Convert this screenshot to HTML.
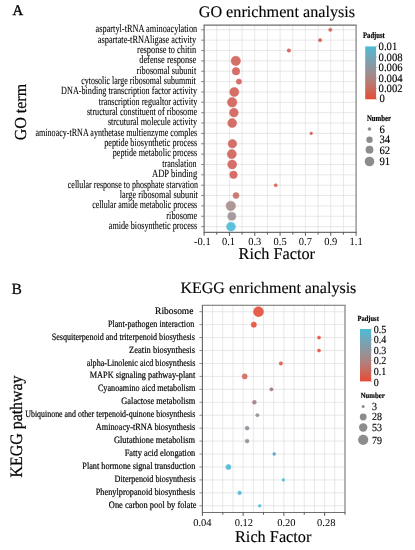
<!DOCTYPE html>
<html><head><meta charset="utf-8"><title>Enrichment analysis</title>
<style>html,body{margin:0;padding:0;background:#fff}body{width:415px;height:550px;overflow:hidden}svg{display:block}text{font-family:"Liberation Serif","DejaVu Serif",serif;fill:#000}</style></head><body>
<svg width="415" height="550" viewBox="0 0 415 550" text-rendering="geometricPrecision">
<defs><filter id="soft" x="0" y="0" width="415" height="550" filterUnits="userSpaceOnUse"><feGaussianBlur stdDeviation="0.35"/></filter><linearGradient id="g" x1="0" y1="1" x2="0" y2="0"><stop offset="0" stop-color="#e64b35"/><stop offset="0.2" stop-color="#c96a5e"/><stop offset="0.4" stop-color="#ab8482"/><stop offset="0.6" stop-color="#8d969e"/><stop offset="0.8" stop-color="#6fa8ba"/><stop offset="1" stop-color="#4dbbd5"/></linearGradient></defs>
<rect width="415" height="550" fill="#fff"/>
<g filter="url(#soft)">
<rect x="204.1" y="25.1" width="152.00" height="207.30" fill="#fff"/>
<line x1="216.77" y1="25.1" x2="216.77" y2="232.4" stroke="#dedede" stroke-width="0.7"/>
<line x1="229.43" y1="25.1" x2="229.43" y2="232.4" stroke="#dedede" stroke-width="0.7"/>
<line x1="242.10" y1="25.1" x2="242.10" y2="232.4" stroke="#dedede" stroke-width="0.7"/>
<line x1="254.77" y1="25.1" x2="254.77" y2="232.4" stroke="#dedede" stroke-width="0.7"/>
<line x1="267.43" y1="25.1" x2="267.43" y2="232.4" stroke="#dedede" stroke-width="0.7"/>
<line x1="280.10" y1="25.1" x2="280.10" y2="232.4" stroke="#dedede" stroke-width="0.7"/>
<line x1="292.77" y1="25.1" x2="292.77" y2="232.4" stroke="#dedede" stroke-width="0.7"/>
<line x1="305.43" y1="25.1" x2="305.43" y2="232.4" stroke="#dedede" stroke-width="0.7"/>
<line x1="318.10" y1="25.1" x2="318.10" y2="232.4" stroke="#dedede" stroke-width="0.7"/>
<line x1="330.77" y1="25.1" x2="330.77" y2="232.4" stroke="#dedede" stroke-width="0.7"/>
<line x1="343.43" y1="25.1" x2="343.43" y2="232.4" stroke="#dedede" stroke-width="0.7"/>
<line x1="204.1" y1="29.80" x2="356.1" y2="29.80" stroke="#dedede" stroke-width="0.7"/>
<line x1="204.1" y1="40.16" x2="356.1" y2="40.16" stroke="#dedede" stroke-width="0.7"/>
<line x1="204.1" y1="50.52" x2="356.1" y2="50.52" stroke="#dedede" stroke-width="0.7"/>
<line x1="204.1" y1="60.88" x2="356.1" y2="60.88" stroke="#dedede" stroke-width="0.7"/>
<line x1="204.1" y1="71.24" x2="356.1" y2="71.24" stroke="#dedede" stroke-width="0.7"/>
<line x1="204.1" y1="81.60" x2="356.1" y2="81.60" stroke="#dedede" stroke-width="0.7"/>
<line x1="204.1" y1="91.96" x2="356.1" y2="91.96" stroke="#dedede" stroke-width="0.7"/>
<line x1="204.1" y1="102.32" x2="356.1" y2="102.32" stroke="#dedede" stroke-width="0.7"/>
<line x1="204.1" y1="112.68" x2="356.1" y2="112.68" stroke="#dedede" stroke-width="0.7"/>
<line x1="204.1" y1="123.04" x2="356.1" y2="123.04" stroke="#dedede" stroke-width="0.7"/>
<line x1="204.1" y1="133.40" x2="356.1" y2="133.40" stroke="#dedede" stroke-width="0.7"/>
<line x1="204.1" y1="143.76" x2="356.1" y2="143.76" stroke="#dedede" stroke-width="0.7"/>
<line x1="204.1" y1="154.12" x2="356.1" y2="154.12" stroke="#dedede" stroke-width="0.7"/>
<line x1="204.1" y1="164.48" x2="356.1" y2="164.48" stroke="#dedede" stroke-width="0.7"/>
<line x1="204.1" y1="174.84" x2="356.1" y2="174.84" stroke="#dedede" stroke-width="0.7"/>
<line x1="204.1" y1="185.20" x2="356.1" y2="185.20" stroke="#dedede" stroke-width="0.7"/>
<line x1="204.1" y1="195.56" x2="356.1" y2="195.56" stroke="#dedede" stroke-width="0.7"/>
<line x1="204.1" y1="205.92" x2="356.1" y2="205.92" stroke="#dedede" stroke-width="0.7"/>
<line x1="204.1" y1="216.28" x2="356.1" y2="216.28" stroke="#dedede" stroke-width="0.7"/>
<line x1="204.1" y1="226.64" x2="356.1" y2="226.64" stroke="#dedede" stroke-width="0.7"/>
<circle cx="330.3" cy="29.80" r="1.65" fill="#d25e52" fill-opacity="0.92" stroke="#d25e52" stroke-width="0.5"/>
<circle cx="320.1" cy="40.16" r="1.65" fill="#d25e52" fill-opacity="0.92" stroke="#d25e52" stroke-width="0.5"/>
<circle cx="288.9" cy="50.52" r="1.75" fill="#d55f55" fill-opacity="0.92" stroke="#d55f55" stroke-width="0.5"/>
<circle cx="235.8" cy="60.88" r="4.65" fill="#d1635a" fill-opacity="0.92" stroke="#d1635a" stroke-width="0.5"/>
<circle cx="236.0" cy="71.24" r="3.75" fill="#d1635a" fill-opacity="0.92" stroke="#d1635a" stroke-width="0.5"/>
<circle cx="238.9" cy="81.60" r="2.65" fill="#d1635a" fill-opacity="0.92" stroke="#d1635a" stroke-width="0.5"/>
<circle cx="234.3" cy="91.96" r="4.55" fill="#d1635a" fill-opacity="0.92" stroke="#d1635a" stroke-width="0.5"/>
<circle cx="232.2" cy="102.32" r="4.75" fill="#d1635a" fill-opacity="0.92" stroke="#d1635a" stroke-width="0.5"/>
<circle cx="233.9" cy="112.68" r="4.35" fill="#d1635a" fill-opacity="0.92" stroke="#d1635a" stroke-width="0.5"/>
<circle cx="232.2" cy="123.04" r="4.45" fill="#d1635a" fill-opacity="0.92" stroke="#d1635a" stroke-width="0.5"/>
<circle cx="311.2" cy="133.40" r="1.35" fill="#d25e52" fill-opacity="0.92" stroke="#d25e52" stroke-width="0.5"/>
<circle cx="232.4" cy="143.76" r="4.25" fill="#d1635a" fill-opacity="0.92" stroke="#d1635a" stroke-width="0.5"/>
<circle cx="231.8" cy="154.12" r="4.55" fill="#d1635a" fill-opacity="0.92" stroke="#d1635a" stroke-width="0.5"/>
<circle cx="232.2" cy="164.48" r="4.45" fill="#d1635a" fill-opacity="0.92" stroke="#d1635a" stroke-width="0.5"/>
<circle cx="233.5" cy="174.84" r="3.75" fill="#d1635a" fill-opacity="0.92" stroke="#d1635a" stroke-width="0.5"/>
<circle cx="275.7" cy="185.20" r="1.55" fill="#d55f55" fill-opacity="0.92" stroke="#d55f55" stroke-width="0.5"/>
<circle cx="236.0" cy="195.56" r="3.05" fill="#c4726a" fill-opacity="0.92" stroke="#c4726a" stroke-width="0.5"/>
<circle cx="230.8" cy="205.92" r="4.75" fill="#a8908f" fill-opacity="0.92" stroke="#a8908f" stroke-width="0.5"/>
<circle cx="231.8" cy="216.28" r="4.05" fill="#a09497" fill-opacity="0.92" stroke="#a09497" stroke-width="0.5"/>
<circle cx="231.0" cy="226.64" r="4.45" fill="#4fbcd8" fill-opacity="0.92" stroke="#4fbcd8" stroke-width="0.5"/>
<path d="M204.1 232.95V25.1" fill="none" stroke="#626262" stroke-width="1.1"/>
<path d="M203.55 25.1H356.70" fill="none" stroke="#6c6c6c" stroke-width="1.1"/>
<path d="M356.1 25.1V233.00" fill="none" stroke="#8e8e8e" stroke-width="1.35"/>
<path d="M204.1 232.4H356.1" fill="none" stroke="#707070" stroke-width="1.2"/>
<line x1="201.10" y1="29.80" x2="204.1" y2="29.80" stroke="#666" stroke-width="0.75"/>
<text transform="translate(197.20,32.17) scale(0.7519,1)" font-size="11.04" text-anchor="end" stroke="#000" stroke-width="0.1">aspartyl-tRNA aminoacylation</text>
<line x1="201.10" y1="40.16" x2="204.1" y2="40.16" stroke="#666" stroke-width="0.75"/>
<text transform="translate(196.20,42.53) scale(0.7519,1)" font-size="11.04" text-anchor="end" stroke="#000" stroke-width="0.1">aspartate-tRNAligase activity</text>
<line x1="201.10" y1="50.52" x2="204.1" y2="50.52" stroke="#666" stroke-width="0.75"/>
<text transform="translate(196.20,52.89) scale(0.7594,1)" font-size="11.04" text-anchor="end" stroke="#000" stroke-width="0.1">response to chitin</text>
<line x1="201.10" y1="60.88" x2="204.1" y2="60.88" stroke="#666" stroke-width="0.75"/>
<text transform="translate(196.20,63.25) scale(0.7594,1)" font-size="11.04" text-anchor="end" stroke="#000" stroke-width="0.1">defense response</text>
<line x1="201.10" y1="71.24" x2="204.1" y2="71.24" stroke="#666" stroke-width="0.75"/>
<text transform="translate(196.20,73.61) scale(0.7519,1)" font-size="11.04" text-anchor="end" stroke="#000" stroke-width="0.1">ribosomal subunit</text>
<line x1="201.10" y1="81.60" x2="204.1" y2="81.60" stroke="#666" stroke-width="0.75"/>
<text transform="translate(195.80,83.97) scale(0.7248,1)" font-size="11.04" text-anchor="end" stroke="#000" stroke-width="0.1">cytosolic large ribosomal subummit</text>
<line x1="201.10" y1="91.96" x2="204.1" y2="91.96" stroke="#666" stroke-width="0.75"/>
<text transform="translate(197.20,94.33) scale(0.7391,1)" font-size="11.04" text-anchor="end" stroke="#000" stroke-width="0.1">DNA-binding transcription factor activity</text>
<line x1="201.10" y1="102.32" x2="204.1" y2="102.32" stroke="#666" stroke-width="0.75"/>
<text transform="translate(197.20,104.69) scale(0.7339,1)" font-size="11.04" text-anchor="end" stroke="#000" stroke-width="0.1">transcription regualtor activity</text>
<line x1="201.10" y1="112.68" x2="204.1" y2="112.68" stroke="#666" stroke-width="0.75"/>
<text transform="translate(197.20,115.05) scale(0.7421,1)" font-size="11.04" text-anchor="end" stroke="#000" stroke-width="0.1">structural constituent of ribosome</text>
<line x1="201.10" y1="123.04" x2="204.1" y2="123.04" stroke="#666" stroke-width="0.75"/>
<text transform="translate(197.20,125.41) scale(0.7398,1)" font-size="11.04" text-anchor="end" stroke="#000" stroke-width="0.1">strcutural molecule activity</text>
<line x1="201.10" y1="133.40" x2="204.1" y2="133.40" stroke="#666" stroke-width="0.75"/>
<text transform="translate(197.20,135.77) scale(0.73,1)" font-size="11.04" text-anchor="end" stroke="#000" stroke-width="0.1">aminoacy-tRNA aynthetase multienzyme comples</text>
<line x1="201.10" y1="143.76" x2="204.1" y2="143.76" stroke="#666" stroke-width="0.75"/>
<text transform="translate(197.20,146.13) scale(0.7444,1)" font-size="11.04" text-anchor="end" stroke="#000" stroke-width="0.1">peptide biosynthetic process</text>
<line x1="201.10" y1="154.12" x2="204.1" y2="154.12" stroke="#666" stroke-width="0.75"/>
<text transform="translate(197.20,156.49) scale(0.7368,1)" font-size="11.04" text-anchor="end" stroke="#000" stroke-width="0.1">peptide metabolic process</text>
<line x1="201.10" y1="164.48" x2="204.1" y2="164.48" stroke="#666" stroke-width="0.75"/>
<text transform="translate(196.50,166.85) scale(0.7346,1)" font-size="11.04" text-anchor="end" stroke="#000" stroke-width="0.1">translation</text>
<line x1="201.10" y1="174.84" x2="204.1" y2="174.84" stroke="#666" stroke-width="0.75"/>
<text transform="translate(197.20,177.21) scale(0.7782,1)" font-size="11.04" text-anchor="end" stroke="#000" stroke-width="0.1">ADP binding</text>
<line x1="201.10" y1="185.20" x2="204.1" y2="185.20" stroke="#666" stroke-width="0.75"/>
<text transform="translate(197.90,187.57) scale(0.7248,1)" font-size="11.04" text-anchor="end" stroke="#000" stroke-width="0.1">cellular response to phosphate starvation</text>
<line x1="201.10" y1="195.56" x2="204.1" y2="195.56" stroke="#666" stroke-width="0.75"/>
<text transform="translate(197.90,197.93) scale(0.7519,1)" font-size="11.04" text-anchor="end" stroke="#000" stroke-width="0.1">large ribosomal subunit</text>
<line x1="201.10" y1="205.92" x2="204.1" y2="205.92" stroke="#666" stroke-width="0.75"/>
<text transform="translate(197.20,208.29) scale(0.7248,1)" font-size="11.04" text-anchor="end" stroke="#000" stroke-width="0.1">cellular amide metabolic process</text>
<line x1="201.10" y1="216.28" x2="204.1" y2="216.28" stroke="#666" stroke-width="0.75"/>
<text transform="translate(197.20,218.65) scale(0.7519,1)" font-size="11.04" text-anchor="end" stroke="#000" stroke-width="0.1">ribosome</text>
<line x1="201.10" y1="226.64" x2="204.1" y2="226.64" stroke="#666" stroke-width="0.75"/>
<text transform="translate(197.20,229.01) scale(0.7398,1)" font-size="11.04" text-anchor="end" stroke="#000" stroke-width="0.1">amide biosynthetic process</text>
<line x1="204.10" y1="232.4" x2="204.10" y2="235.80" stroke="#444" stroke-width="0.9"/>
<text transform="translate(202.40,245.10) scale(0.965,1)" font-size="10.88" text-anchor="middle">-0.1</text>
<line x1="229.43" y1="232.4" x2="229.43" y2="235.80" stroke="#444" stroke-width="0.9"/>
<text transform="translate(228.53,245.10) scale(0.965,1)" font-size="10.88" text-anchor="middle">0.1</text>
<line x1="254.77" y1="232.4" x2="254.77" y2="235.80" stroke="#444" stroke-width="0.9"/>
<text transform="translate(254.77,245.10) scale(0.965,1)" font-size="10.88" text-anchor="middle">0.3</text>
<line x1="280.10" y1="232.4" x2="280.10" y2="235.80" stroke="#444" stroke-width="0.9"/>
<text transform="translate(280.10,245.10) scale(0.965,1)" font-size="10.88" text-anchor="middle">0.5</text>
<line x1="305.43" y1="232.4" x2="305.43" y2="235.80" stroke="#444" stroke-width="0.9"/>
<text transform="translate(305.43,245.10) scale(0.965,1)" font-size="10.88" text-anchor="middle">0.7</text>
<line x1="330.77" y1="232.4" x2="330.77" y2="235.80" stroke="#444" stroke-width="0.9"/>
<text transform="translate(330.77,245.10) scale(0.965,1)" font-size="10.88" text-anchor="middle">0.9</text>
<line x1="356.10" y1="232.4" x2="356.10" y2="235.80" stroke="#444" stroke-width="0.9"/>
<text transform="translate(356.10,245.10) scale(0.965,1)" font-size="10.88" text-anchor="middle">1.1</text>
<line x1="216.77" y1="232.4" x2="216.77" y2="234.60" stroke="#444" stroke-width="0.9"/>
<line x1="242.10" y1="232.4" x2="242.10" y2="234.60" stroke="#444" stroke-width="0.9"/>
<line x1="267.43" y1="232.4" x2="267.43" y2="234.60" stroke="#444" stroke-width="0.9"/>
<line x1="292.77" y1="232.4" x2="292.77" y2="234.60" stroke="#444" stroke-width="0.9"/>
<line x1="318.10" y1="232.4" x2="318.10" y2="234.60" stroke="#444" stroke-width="0.9"/>
<line x1="343.43" y1="232.4" x2="343.43" y2="234.60" stroke="#444" stroke-width="0.9"/>
<rect x="202.4" y="305.3" width="142.60" height="207.20" fill="#fff"/>
<line x1="212.59" y1="305.3" x2="212.59" y2="512.5" stroke="#dedede" stroke-width="0.7"/>
<line x1="222.77" y1="305.3" x2="222.77" y2="512.5" stroke="#dedede" stroke-width="0.7"/>
<line x1="232.96" y1="305.3" x2="232.96" y2="512.5" stroke="#dedede" stroke-width="0.7"/>
<line x1="243.14" y1="305.3" x2="243.14" y2="512.5" stroke="#dedede" stroke-width="0.7"/>
<line x1="253.33" y1="305.3" x2="253.33" y2="512.5" stroke="#dedede" stroke-width="0.7"/>
<line x1="263.51" y1="305.3" x2="263.51" y2="512.5" stroke="#dedede" stroke-width="0.7"/>
<line x1="273.70" y1="305.3" x2="273.70" y2="512.5" stroke="#dedede" stroke-width="0.7"/>
<line x1="283.89" y1="305.3" x2="283.89" y2="512.5" stroke="#dedede" stroke-width="0.7"/>
<line x1="294.07" y1="305.3" x2="294.07" y2="512.5" stroke="#dedede" stroke-width="0.7"/>
<line x1="304.26" y1="305.3" x2="304.26" y2="512.5" stroke="#dedede" stroke-width="0.7"/>
<line x1="314.44" y1="305.3" x2="314.44" y2="512.5" stroke="#dedede" stroke-width="0.7"/>
<line x1="324.63" y1="305.3" x2="324.63" y2="512.5" stroke="#dedede" stroke-width="0.7"/>
<line x1="334.81" y1="305.3" x2="334.81" y2="512.5" stroke="#dedede" stroke-width="0.7"/>
<line x1="202.4" y1="311.70" x2="345.0" y2="311.70" stroke="#dedede" stroke-width="0.7"/>
<line x1="202.4" y1="324.64" x2="345.0" y2="324.64" stroke="#dedede" stroke-width="0.7"/>
<line x1="202.4" y1="337.58" x2="345.0" y2="337.58" stroke="#dedede" stroke-width="0.7"/>
<line x1="202.4" y1="350.52" x2="345.0" y2="350.52" stroke="#dedede" stroke-width="0.7"/>
<line x1="202.4" y1="363.46" x2="345.0" y2="363.46" stroke="#dedede" stroke-width="0.7"/>
<line x1="202.4" y1="376.40" x2="345.0" y2="376.40" stroke="#dedede" stroke-width="0.7"/>
<line x1="202.4" y1="389.34" x2="345.0" y2="389.34" stroke="#dedede" stroke-width="0.7"/>
<line x1="202.4" y1="402.28" x2="345.0" y2="402.28" stroke="#dedede" stroke-width="0.7"/>
<line x1="202.4" y1="415.22" x2="345.0" y2="415.22" stroke="#dedede" stroke-width="0.7"/>
<line x1="202.4" y1="428.16" x2="345.0" y2="428.16" stroke="#dedede" stroke-width="0.7"/>
<line x1="202.4" y1="441.10" x2="345.0" y2="441.10" stroke="#dedede" stroke-width="0.7"/>
<line x1="202.4" y1="454.04" x2="345.0" y2="454.04" stroke="#dedede" stroke-width="0.7"/>
<line x1="202.4" y1="466.98" x2="345.0" y2="466.98" stroke="#dedede" stroke-width="0.7"/>
<line x1="202.4" y1="479.92" x2="345.0" y2="479.92" stroke="#dedede" stroke-width="0.7"/>
<line x1="202.4" y1="492.86" x2="345.0" y2="492.86" stroke="#dedede" stroke-width="0.7"/>
<line x1="202.4" y1="505.80" x2="345.0" y2="505.80" stroke="#dedede" stroke-width="0.7"/>
<circle cx="258.5" cy="311.70" r="4.95" fill="#e4533e" fill-opacity="0.92" stroke="#e4533e" stroke-width="0.5"/>
<circle cx="253.8" cy="324.64" r="2.65" fill="#e4533e" fill-opacity="0.92" stroke="#e4533e" stroke-width="0.5"/>
<circle cx="319.0" cy="337.58" r="1.55" fill="#e4533e" fill-opacity="0.92" stroke="#e4533e" stroke-width="0.5"/>
<circle cx="319.0" cy="350.52" r="1.55" fill="#e4533e" fill-opacity="0.92" stroke="#e4533e" stroke-width="0.5"/>
<circle cx="280.9" cy="363.46" r="1.75" fill="#dc5f52" fill-opacity="0.92" stroke="#dc5f52" stroke-width="0.5"/>
<circle cx="244.7" cy="376.40" r="2.55" fill="#d46a62" fill-opacity="0.92" stroke="#d46a62" stroke-width="0.5"/>
<circle cx="271.4" cy="389.34" r="1.65" fill="#a07880" fill-opacity="0.92" stroke="#a07880" stroke-width="0.5"/>
<circle cx="254.4" cy="402.28" r="1.95" fill="#a88088" fill-opacity="0.92" stroke="#a88088" stroke-width="0.5"/>
<circle cx="257.4" cy="415.22" r="1.65" fill="#90909a" fill-opacity="0.92" stroke="#90909a" stroke-width="0.5"/>
<circle cx="247.1" cy="428.16" r="1.95" fill="#8c8f98" fill-opacity="0.92" stroke="#8c8f98" stroke-width="0.5"/>
<circle cx="247.1" cy="441.10" r="1.95" fill="#8c9098" fill-opacity="0.92" stroke="#8c9098" stroke-width="0.5"/>
<circle cx="274.2" cy="454.04" r="1.45" fill="#55a8c8" fill-opacity="0.92" stroke="#55a8c8" stroke-width="0.5"/>
<circle cx="228.4" cy="466.98" r="2.55" fill="#55b8d5" fill-opacity="0.92" stroke="#55b8d5" stroke-width="0.5"/>
<circle cx="283.4" cy="479.92" r="1.35" fill="#4fbcd8" fill-opacity="0.92" stroke="#4fbcd8" stroke-width="0.5"/>
<circle cx="239.6" cy="492.86" r="1.85" fill="#4fbcd8" fill-opacity="0.92" stroke="#4fbcd8" stroke-width="0.5"/>
<circle cx="259.7" cy="505.80" r="1.35" fill="#4fbcd8" fill-opacity="0.92" stroke="#4fbcd8" stroke-width="0.5"/>
<path d="M202.4 513.05V305.3" fill="none" stroke="#626262" stroke-width="1.1"/>
<path d="M201.85 305.3H345.60" fill="none" stroke="#6c6c6c" stroke-width="1.1"/>
<path d="M345.0 305.3V513.10" fill="none" stroke="#8e8e8e" stroke-width="1.35"/>
<path d="M202.4 512.5H345.0" fill="none" stroke="#707070" stroke-width="1.2"/>
<line x1="199.40" y1="311.70" x2="202.4" y2="311.70" stroke="#666" stroke-width="0.75"/>
<text transform="translate(193.40,313.82) scale(0.9584,1)" font-size="9.86" text-anchor="end" stroke="#000" stroke-width="0.2">Ribosome</text>
<line x1="199.40" y1="324.64" x2="202.4" y2="324.64" stroke="#666" stroke-width="0.75"/>
<text transform="translate(194.30,326.72) scale(0.8425,1)" font-size="9.7" text-anchor="end" stroke="#000" stroke-width="0.2">Plant-pathogen interaction</text>
<line x1="199.40" y1="337.58" x2="202.4" y2="337.58" stroke="#666" stroke-width="0.75"/>
<text transform="translate(195.00,339.66) scale(0.8333,1)" font-size="9.7" text-anchor="end" stroke="#000" stroke-width="0.2">Sesquiterpenoid and triterpenoid biosythesis</text>
<line x1="199.40" y1="350.52" x2="202.4" y2="350.52" stroke="#666" stroke-width="0.75"/>
<text transform="translate(195.00,352.60) scale(0.8783,1)" font-size="9.7" text-anchor="end" stroke="#000" stroke-width="0.2">Zeatin biosynthesis</text>
<line x1="199.40" y1="363.46" x2="202.4" y2="363.46" stroke="#666" stroke-width="0.75"/>
<text transform="translate(195.30,365.54) scale(0.8333,1)" font-size="9.7" text-anchor="end" stroke="#000" stroke-width="0.2">alpha-Linolenic aicd biosynthesis</text>
<line x1="199.40" y1="376.40" x2="202.4" y2="376.40" stroke="#666" stroke-width="0.75"/>
<text transform="translate(195.30,378.48) scale(0.8525,1)" font-size="9.7" text-anchor="end" stroke="#000" stroke-width="0.2">MAPK signaling pathway-plant</text>
<line x1="199.40" y1="389.34" x2="202.4" y2="389.34" stroke="#666" stroke-width="0.75"/>
<text transform="translate(195.30,391.42) scale(0.8417,1)" font-size="9.7" text-anchor="end" stroke="#000" stroke-width="0.2">Cyanoamino aicd metabolism</text>
<line x1="199.40" y1="402.28" x2="202.4" y2="402.28" stroke="#666" stroke-width="0.75"/>
<text transform="translate(195.30,404.36) scale(0.8617,1)" font-size="9.7" text-anchor="end" stroke="#000" stroke-width="0.2">Galactose metabolism</text>
<line x1="199.40" y1="415.22" x2="202.4" y2="415.22" stroke="#666" stroke-width="0.75"/>
<text transform="translate(195.30,417.30) scale(0.8166,1)" font-size="9.7" text-anchor="end" stroke="#000" stroke-width="0.2">Ubiquinone and other terpenoid-quinone biosynthesis</text>
<line x1="199.40" y1="428.16" x2="202.4" y2="428.16" stroke="#666" stroke-width="0.75"/>
<text transform="translate(195.30,430.24) scale(0.8542,1)" font-size="9.7" text-anchor="end" stroke="#000" stroke-width="0.2">Aminoacy-tRNA biosynthesis</text>
<line x1="199.40" y1="441.10" x2="202.4" y2="441.10" stroke="#666" stroke-width="0.75"/>
<text transform="translate(195.10,443.18) scale(0.8691,1)" font-size="9.7" text-anchor="end" stroke="#000" stroke-width="0.2">Glutathione metabolism</text>
<line x1="199.40" y1="454.04" x2="202.4" y2="454.04" stroke="#666" stroke-width="0.75"/>
<text transform="translate(195.30,456.12) scale(0.8633,1)" font-size="9.7" text-anchor="end" stroke="#000" stroke-width="0.2">Fatty acid elongation</text>
<line x1="199.40" y1="466.98" x2="202.4" y2="466.98" stroke="#666" stroke-width="0.75"/>
<text transform="translate(195.30,469.06) scale(0.8517,1)" font-size="9.7" text-anchor="end" stroke="#000" stroke-width="0.2">Plant hormone signal transduction</text>
<line x1="199.40" y1="479.92" x2="202.4" y2="479.92" stroke="#666" stroke-width="0.75"/>
<text transform="translate(195.60,482.00) scale(0.8383,1)" font-size="9.7" text-anchor="end" stroke="#000" stroke-width="0.2">Diterpenoid biosynthesis</text>
<line x1="199.40" y1="492.86" x2="202.4" y2="492.86" stroke="#666" stroke-width="0.75"/>
<text transform="translate(195.30,494.94) scale(0.8542,1)" font-size="9.7" text-anchor="end" stroke="#000" stroke-width="0.2">Phenylpropanoid biosynthesis</text>
<line x1="199.40" y1="505.80" x2="202.4" y2="505.80" stroke="#666" stroke-width="0.75"/>
<text transform="translate(196.50,507.88) scale(0.8666,1)" font-size="9.7" text-anchor="end" stroke="#000" stroke-width="0.2">One carbon pool by folate</text>
<line x1="202.40" y1="512.5" x2="202.40" y2="515.90" stroke="#444" stroke-width="0.9"/>
<text x="202.40" y="525.50" font-size="10.5" text-anchor="middle">0.04</text>
<line x1="243.14" y1="512.5" x2="243.14" y2="515.90" stroke="#444" stroke-width="0.9"/>
<text x="243.84" y="525.50" font-size="10.5" text-anchor="middle">0.12</text>
<line x1="283.89" y1="512.5" x2="283.89" y2="515.90" stroke="#444" stroke-width="0.9"/>
<text x="286.39" y="525.50" font-size="10.5" text-anchor="middle">0.20</text>
<line x1="324.63" y1="512.5" x2="324.63" y2="515.90" stroke="#444" stroke-width="0.9"/>
<text x="326.23" y="525.50" font-size="10.5" text-anchor="middle">0.28</text>
<line x1="222.77" y1="512.5" x2="222.77" y2="514.70" stroke="#444" stroke-width="0.9"/>
<line x1="263.51" y1="512.5" x2="263.51" y2="514.70" stroke="#444" stroke-width="0.9"/>
<line x1="304.26" y1="512.5" x2="304.26" y2="514.70" stroke="#444" stroke-width="0.9"/>
<line x1="345.00" y1="512.5" x2="345.00" y2="514.70" stroke="#444" stroke-width="0.9"/>
<text x="12.5" y="15.3" font-size="14.8" stroke="#000" stroke-width="0.35">A</text>
<text x="11.4" y="294.1" font-size="15.6" stroke="#000" stroke-width="0.2">B</text>
<text x="198.7" y="17.3" font-size="16.2" stroke="#000" stroke-width="0.12">GO enrichment analysis</text>
<text x="180.4" y="292.8" font-size="16.05" stroke="#000" stroke-width="0.12">KEGG enrichment <tspan x="304.7">analysis</tspan></text>
<text x="238.6" y="259.2" font-size="16.3" stroke="#000" stroke-width="0.12">Rich Factor</text>
<text x="235" y="542" font-size="16.3" stroke="#000" stroke-width="0.12">Rich Factor</text>
<text transform="translate(26.2,140.3) rotate(-90) scale(1,1.05)" font-size="16" stroke="#000" stroke-width="0.2">GO term</text>
<text transform="translate(22.3,477.4) rotate(-90) scale(1,1.1)" font-size="15.9" stroke="#000" stroke-width="0.2">KEGG pathway</text>
<text transform="translate(363.00,37.90) scale(0.775,1)" font-size="8.6" font-weight="bold" stroke="#000" stroke-width="0.2">Padjust</text>
<rect x="365.2" y="46.4" width="10.9" height="52.9" fill="url(#g)"/>
<line x1="376.09999999999997" y1="46.40" x2="377.09999999999997" y2="46.40" stroke="#777" stroke-width="0.5"/>
<text transform="translate(378.60,50.20) scale(0.945,1)" font-size="11.3" stroke="#000" stroke-width="0.15">0.01</text>
<line x1="376.09999999999997" y1="56.98" x2="377.09999999999997" y2="56.98" stroke="#777" stroke-width="0.5"/>
<text transform="translate(378.60,61.10) scale(0.945,1)" font-size="11.3" stroke="#000" stroke-width="0.15">0.008</text>
<line x1="376.09999999999997" y1="67.56" x2="377.09999999999997" y2="67.56" stroke="#777" stroke-width="0.5"/>
<text transform="translate(378.60,71.20) scale(0.945,1)" font-size="11.3" stroke="#000" stroke-width="0.15">0.006</text>
<line x1="376.09999999999997" y1="78.14" x2="377.09999999999997" y2="78.14" stroke="#777" stroke-width="0.5"/>
<text transform="translate(378.60,81.90) scale(0.945,1)" font-size="11.3" stroke="#000" stroke-width="0.15">0.004</text>
<line x1="376.09999999999997" y1="88.72" x2="377.09999999999997" y2="88.72" stroke="#777" stroke-width="0.5"/>
<text transform="translate(378.60,91.70) scale(0.945,1)" font-size="11.3" stroke="#000" stroke-width="0.15">0.002</text>
<line x1="376.09999999999997" y1="99.30" x2="377.09999999999997" y2="99.30" stroke="#777" stroke-width="0.5"/>
<text transform="translate(379.60,102.20) scale(0.945,1)" font-size="11.3" stroke="#000" stroke-width="0.15">0</text>
<text transform="translate(366.90,121.20) scale(0.785,1)" font-size="8.6" font-weight="bold" stroke="#000" stroke-width="0.2">Number</text>
<circle cx="369.5" cy="129" r="1.8" fill="#8c8c8c"/>
<text transform="translate(379.50,132.80) scale(0.945,1)" font-size="11.3" stroke="#000" stroke-width="0.15">6</text>
<circle cx="369.5" cy="139.7" r="3.2" fill="#8c8c8c"/>
<text transform="translate(379.50,142.90) scale(0.945,1)" font-size="11.3" stroke="#000" stroke-width="0.15">34</text>
<circle cx="369.5" cy="149.7" r="3.9" fill="#8c8c8c"/>
<text transform="translate(379.50,153.50) scale(0.945,1)" font-size="11.3" stroke="#000" stroke-width="0.15">62</text>
<circle cx="369.5" cy="161.5" r="4.8" fill="#8c8c8c"/>
<text transform="translate(379.50,165.20) scale(0.945,1)" font-size="11.3" stroke="#000" stroke-width="0.15">91</text>
<text transform="translate(357.40,320.60) scale(0.85,1)" font-size="7.7" font-weight="bold" stroke="#000" stroke-width="0.2">Padjust</text>
<rect x="360.0" y="329" width="11.2" height="52.4" fill="url(#g)"/>
<line x1="371.2" y1="329.00" x2="372.2" y2="329.00" stroke="#777" stroke-width="0.5"/>
<text transform="translate(373.70,333.10) scale(0.92,1)" font-size="10.9" stroke="#000" stroke-width="0.15">0.5</text>
<line x1="371.2" y1="339.48" x2="372.2" y2="339.48" stroke="#777" stroke-width="0.5"/>
<text transform="translate(373.70,342.50) scale(0.92,1)" font-size="10.9" stroke="#000" stroke-width="0.15">0.4</text>
<line x1="371.2" y1="349.96" x2="372.2" y2="349.96" stroke="#777" stroke-width="0.5"/>
<text transform="translate(373.70,354.10) scale(0.92,1)" font-size="10.9" stroke="#000" stroke-width="0.15">0.3</text>
<line x1="371.2" y1="360.44" x2="372.2" y2="360.44" stroke="#777" stroke-width="0.5"/>
<text transform="translate(373.70,364.30) scale(0.92,1)" font-size="10.9" stroke="#000" stroke-width="0.15">0.2</text>
<line x1="371.2" y1="370.92" x2="372.2" y2="370.92" stroke="#777" stroke-width="0.5"/>
<text transform="translate(373.70,374.70) scale(0.92,1)" font-size="10.9" stroke="#000" stroke-width="0.15">0.1</text>
<line x1="371.2" y1="381.40" x2="372.2" y2="381.40" stroke="#777" stroke-width="0.5"/>
<text transform="translate(373.70,386.10) scale(0.92,1)" font-size="10.9" stroke="#000" stroke-width="0.15">0</text>
<text transform="translate(360.70,398.30) scale(0.875,1)" font-size="7.7" font-weight="bold" stroke="#000" stroke-width="0.2">Number</text>
<circle cx="363.2" cy="406.6" r="1.5" fill="#8c8c8c"/>
<text transform="translate(372.00,409.50) scale(0.92,1)" font-size="10.9" stroke="#000" stroke-width="0.15">3</text>
<circle cx="363.2" cy="417" r="3.4" fill="#8c8c8c"/>
<text transform="translate(372.00,420.10) scale(0.92,1)" font-size="10.9" stroke="#000" stroke-width="0.15">28</text>
<circle cx="363.2" cy="427.5" r="4.2" fill="#8c8c8c"/>
<text transform="translate(372.00,431.10) scale(0.92,1)" font-size="10.9" stroke="#000" stroke-width="0.15">53</text>
<circle cx="363.2" cy="439.8" r="5.1" fill="#8c8c8c"/>
<text transform="translate(372.00,443.60) scale(0.92,1)" font-size="10.9" stroke="#000" stroke-width="0.15">79</text>
</g>
</svg></body></html>
